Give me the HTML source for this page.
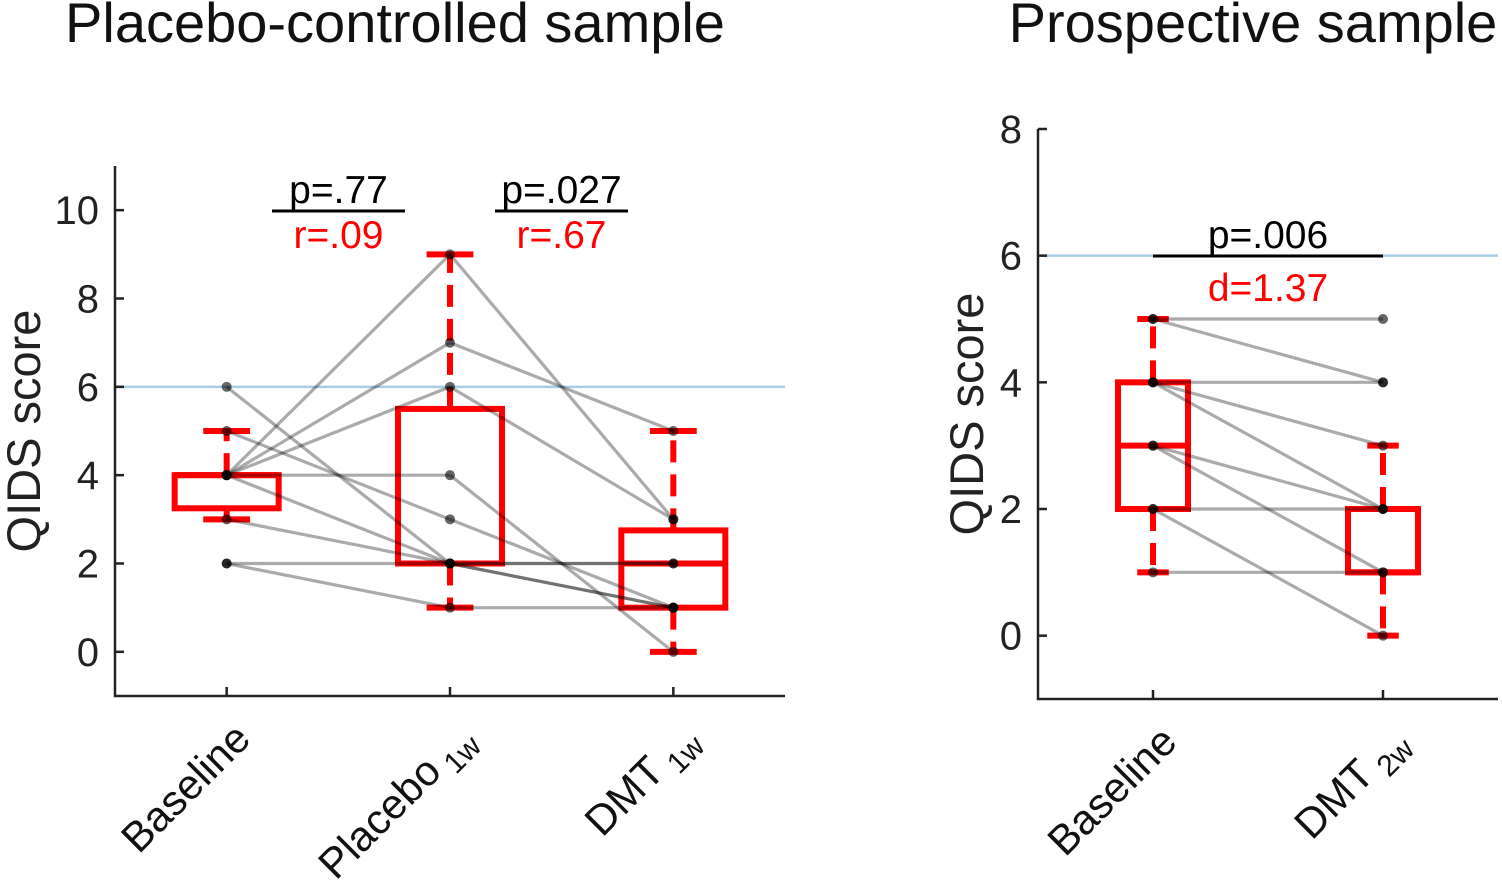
<!DOCTYPE html>
<html><head><meta charset="utf-8"><style>
html,body{margin:0;padding:0;background:#fff}
svg{display:block;font-family:"Liberation Sans",Arial,sans-serif}
</style></head><body>
<svg id="chart" width="1502" height="883" viewBox="0 0 1502 883" xmlns="http://www.w3.org/2000/svg">
<text x="395" y="42" font-size="56" text-anchor="middle" fill="#111">Placebo-controlled sample</text>
<text x="1253" y="42" font-size="56" text-anchor="middle" fill="#111">Prospective sample</text>
<g id="L"></g>
<g id="R"></g>
</svg>
<script>
// Left panel data
const leftCategories = ["Baseline", "Placebo", "DMT"];
const leftSubs = ["", "1w", "1w"];
const leftBaseline = [4,4,4,4,4,6,5,3,2,2];
const leftPlacebo  = [9,7,6,4,2,2,3,2,2,1];
const leftDMT      = [3,5,3,0,2,1,1,1,2,1];
const leftQ1 = [3.25,2,1];
const leftMed = [4,2,2];
const leftQ3 = [4,5.5,2.75];
const leftWLo = [3,1,0];
const leftWHi = [5,9,5];
const leftTicks = [0,2,4,6,8,10];
const leftStats = [{p:"p=.77", e:"r=.09"}, {p:"p=.027", e:"r=.67"}];
// Right panel data
const rightCategories = ["Baseline", "DMT"];
const rightSubs = ["", "2w"];
const rightBaseline = [5,5,4,4,4,3,3,2,2,1];
const rightDMT      = [5,4,4,3,2,2,1,2,0,1];
const rightQ1 = [2,1];
const rightMed = [3,1];
const rightQ3 = [4,2];
const rightWLo = [1,0];
const rightWHi = [5,3];
const rightTicks = [0,2,4,6,8];
const rightStats = [{p:"p=.006", e:"d=1.37"}];
const threshold = 6;

const NS="http://www.w3.org/2000/svg";
function mk(parent, tag, attrs, text){
  const e=document.createElementNS(NS,tag);
  for(const k in attrs) e.setAttribute(k,attrs[k]);
  if(text!==undefined) e.textContent=text;
  parent.appendChild(e); return e;
}

function panel(g, cfg){
  const X=v=>cfg.x0+(v-cfg.xmin)*(cfg.x1-cfg.x0)/(cfg.xmax-cfg.xmin);
  const Y=v=>cfg.y0+(v-cfg.ymin)*(cfg.y1-cfg.y0)/(cfg.ymax-cfg.ymin);
  const th=mk(g,"line",{x1:cfg.x0,x2:cfg.x1,y1:Y(threshold),y2:Y(threshold),stroke:"#a8cde6","stroke-width":2.5});
  
  
  const ax=mk(g,"path",{d:`M${cfg.x0},${cfg.y1} L${cfg.x0},${cfg.y0} L${cfg.x1},${cfg.y0}`,fill:"none",stroke:"#222","stroke-width":2.5});
  
  
  cfg.ticks.forEach(t=>{
    mk(g,"line",{x1:cfg.x0,x2:cfg.x0+9,y1:Y(t),y2:Y(t),stroke:"#222","stroke-width":2.5});
    const tl=mk(g,"text",{x:cfg.x0-16,y:Y(t)+14,"font-size":40,"text-anchor":"end",fill:"#222"},String(t));
    
    
  });
  const yl=mk(g,"text",{x:0,y:0,"font-size":47,"text-anchor":"middle",fill:"#222",transform:`translate(${cfg.ylx},${Y((cfg.ymin+cfg.ymax)/2)}) rotate(-90)`},"QIDS score");
  
  
  cfg.cats.forEach((c,i)=>{
    const cx=X(i+1);
    mk(g,"line",{x1:cx,x2:cx,y1:cfg.y0,y2:cfg.y0-9,stroke:"#222","stroke-width":2.5});
    const t=mk(g,"text",{x:0,y:0,"font-size":42,"text-anchor":"end",fill:"#111",transform:`translate(${cx+cfg.lblDx},${cfg.y0+45}) rotate(-45)`});
    
    
    mk(t,"tspan",{},c);
    if(cfg.subs[i]){ mk(t,"tspan",{dx:8,dy:10,"font-size":30},cfg.subs[i]); }
  });
  const hw=cfg.hw;
  cfg.cats.forEach((c,i)=>{
    const cx=X(i+1);
    const bg=mk(g,"g",{stroke:"#f00",fill:"none","stroke-width":6});
    
    
    mk(bg,"line",{x1:cx,x2:cx,y1:Y(cfg.q3[i]),y2:Y(cfg.whi[i]),"stroke-dasharray":"22 12"});
    mk(bg,"line",{x1:cx,x2:cx,y1:Y(cfg.q1[i]),y2:Y(cfg.wlo[i]),"stroke-dasharray":"22 12"});
    mk(bg,"line",{x1:cx-hw*0.45,x2:cx+hw*0.45,y1:Y(cfg.whi[i]),y2:Y(cfg.whi[i])});
    mk(bg,"line",{x1:cx-hw*0.45,x2:cx+hw*0.45,y1:Y(cfg.wlo[i]),y2:Y(cfg.wlo[i])});
    mk(bg,"rect",{x:cx-hw,y:Y(cfg.q3[i]),width:2*hw,height:Y(cfg.q1[i])-Y(cfg.q3[i])});
    mk(bg,"line",{x1:cx-hw,x2:cx+hw,y1:Y(cfg.med[i]),y2:Y(cfg.med[i])});
  });
  const n=cfg.series[0].length;
  for(let s=0;s<n;s++){
    for(let k=0;k<cfg.series.length-1;k++){
      const l=mk(g,"line",{x1:X(k+1),y1:Y(cfg.series[k][s]),x2:X(k+2),y2:Y(cfg.series[k+1][s]),stroke:"rgba(0,0,0,0.33)","stroke-width":3.2});
      
      
    }
  }
  for(let s=0;s<n;s++){
    for(let k=0;k<cfg.series.length;k++){
      const p=mk(g,"circle",{cx:X(k+1),cy:Y(cfg.series[k][s]),r:5,fill:"rgba(0,0,0,0.6)"});
      
      
    }
  }
  cfg.stats.forEach((st,i)=>{
    const a=cfg.statPos[i];
    const l=mk(g,"line",{x1:a[0],x2:a[1],y1:a[2],y2:a[2],stroke:"#000","stroke-width":3});
    
    
    const m=(a[0]+a[1])/2;
    const pt=mk(g,"text",{x:m,y:a[2]-8,"font-size":39,"text-anchor":"middle",fill:"#000"},st.p);
    
    
    const et=mk(g,"text",{x:m,y:a[2]+a[3],"font-size":39,"text-anchor":"middle",fill:"#f00"},st.e);
    
    
  });
}

panel(document.getElementById("L"),{x0:115,x1:785,xmin:0.5,xmax:3.5,y0:696,y1:166,ymin:-1,ymax:11,
  ticks:leftTicks,cats:leftCategories,subs:leftSubs,ylx:40,lblDx:26,hw:52,
  series:[leftBaseline,leftPlacebo,leftDMT],q1:leftQ1,q3:leftQ3,med:leftMed,wlo:leftWLo,whi:leftWHi,
  stats:leftStats,statPos:[[272,405,211,37],[495,628,211,37]]});
panel(document.getElementById("R"),{x0:1038,x1:1498,xmin:0.5,xmax:2.5,y0:699,y1:129,ymin:-1,ymax:8,
  ticks:rightTicks,cats:rightCategories,subs:rightSubs,ylx:983,lblDx:26,hw:35,
  series:[rightBaseline,rightDMT],q1:rightQ1,q3:rightQ3,med:rightMed,wlo:rightWLo,whi:rightWHi,
  stats:rightStats,statPos:[[1153,1383,256,45]]});
</script>
</body></html>
